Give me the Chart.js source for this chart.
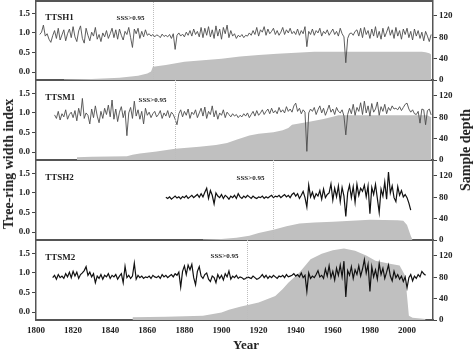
<!DOCTYPE html>
<html>
<head>
<meta charset="utf-8">
<script src="https://cdn.jsdelivr.net/npm/chart.js@4.4.1/dist/chart.umd.min.js"></script>
<style>
  body { margin: 0; background: #fff; }
  #wrap { position: relative; width: 474px; height: 350px; overflow: hidden; font-family: "Liberation Serif", "Times New Roman", serif; font-weight: bold; color: #222; }
  #wrap canvas { position: absolute; left: 0; }
  .axis-title { position: absolute; font-size: 14px; white-space: nowrap; line-height: 1; }
  #leftTitle { left: 9px; top: 164px; transform: translate(-50%, -50%) rotate(-90deg); }
  #rightTitle { left: 466px; top: 150px; transform: translate(-50%, -50%) rotate(-90deg); }
  #bottomTitle { left: 246px; top: 344px; transform: translate(-50%, -50%); font-size: 13px; }
</style>
</head>
<body>
<div id="wrap">
  <canvas id="panel0" width="474" height="82" style="top:0px"></canvas>
  <canvas id="panel1" width="474" height="82" style="top:80px"></canvas>
  <canvas id="panel2" width="474" height="82" style="top:160px"></canvas>
  <canvas id="panel3" width="474" height="110" style="top:240px"></canvas>
  <div class="axis-title" id="leftTitle">Tree-ring width index</div>
  <div class="axis-title" id="rightTitle">Sample depth</div>
  <div class="axis-title" id="bottomTitle">Year</div>
</div>
<script>
// axis ticks
const yearTicks = [1800, 1820, 1840, 1860, 1880, 1900, 1920, 1940, 1960, 1980, 2000];
const indexTicks = [0, 0.5, 1.0, 1.5];
const depthTicks = [0, 40, 80, 120];

const panelNames = ["TTSH1", "TTSM1", "TTSH2", "TTSM2"];
const sssYears = [1863, 1875, 1928, 1914];
const sssLabelValues = [1.38, 1.33, 1.38, 1.42];

// ring width index, one value per year from the start year
const ttsh1Start = 1802;
const ttsh1Index = [
  0.96, 1.02, 1.20, 0.92, 0.98, 0.84, 0.76, 0.93,
  1.06, 0.86, 1.12, 0.82, 0.95, 1.08, 0.80, 0.98, 1.10, 0.88,
  1.16, 0.90, 0.78, 1.05, 1.18, 0.86, 0.74, 1.12, 0.94, 0.80,
  1.02, 0.92, 1.14, 0.84, 0.96, 0.78, 1.00, 0.90, 1.06, 0.86,
  0.98, 1.12, 0.88, 1.08, 0.84, 1.10, 0.94, 0.82, 1.04, 0.96,
  1.14, 0.88, 0.63, 1.10, 0.98, 1.12, 0.86, 1.04, 0.90, 1.08,
  0.94, 0.98, 0.92, 0.96, 0.90, 0.95, 0.93, 0.88, 0.97, 0.91,
  0.94, 0.90, 0.96, 0.86, 0.98, 0.58, 0.94, 1.00, 0.92, 0.97,
  0.90, 1.02, 0.94, 1.06, 0.92, 1.10, 0.96, 1.04, 0.90, 1.14,
  0.88, 1.12, 0.94, 1.16, 0.90, 1.08, 0.86, 1.18, 0.92, 1.10,
  0.84, 1.14, 0.98, 1.20, 0.88, 1.06, 0.92, 0.98, 0.86, 0.94,
  0.90, 0.96, 0.88, 0.94, 0.92, 1.00, 0.94, 1.06, 0.96, 1.14,
  0.92, 1.08, 1.02, 1.16, 0.94, 1.10, 0.98, 1.04, 1.12, 0.96,
  1.06, 0.94, 1.02, 1.14, 0.96, 1.08, 1.00, 1.12, 0.98, 1.04,
  0.96, 1.10, 0.94, 1.06, 0.98, 1.16, 0.65, 1.04, 0.96, 1.10,
  0.94, 1.06, 1.00, 1.12, 0.92, 1.04, 0.98, 1.08, 0.94, 1.02,
  1.10, 0.96, 1.04, 0.92, 1.12, 0.98, 0.90, 0.24, 0.86, 0.98,
  1.00, 0.94, 1.04, 1.08, 0.92, 1.12, 0.88, 1.14, 0.96, 1.06,
  0.86, 1.10, 0.92, 1.16, 0.88, 1.04, 0.84, 1.12, 0.90, 1.02,
  1.16, 0.94, 1.08, 0.86, 1.14, 0.92, 1.06, 0.84, 1.10, 0.96,
  1.12, 0.88, 1.04, 0.82, 1.10, 0.92, 1.06, 0.86, 1.02, 0.80,
  1.04, 0.92, 0.78, 0.96
];

const ttsm1Start = 1810;
const ttsm1Index = [
  0.95, 0.86, 1.04, 0.82, 0.98, 0.90, 1.08, 0.84, 0.96, 1.02,
  0.88, 1.06, 0.80, 1.12, 0.92, 1.37, 0.86, 1.00, 0.94, 0.72,
  1.10, 0.88, 1.18, 0.92, 0.75, 1.04, 0.86, 1.12, 0.96, 1.20,
  0.90, 1.33, 0.84, 1.10, 0.78, 1.02, 1.16, 0.88, 1.06, 0.42,
  1.00, 1.14, 0.86, 1.30, 0.92, 1.08, 0.84, 1.04, 0.72, 1.12,
  0.94, 1.02, 0.88, 0.98, 1.04, 0.90, 0.96, 1.06, 0.86, 1.00,
  0.92, 1.06, 0.88, 1.02, 0.96, 0.84, 0.70, 0.98, 1.08, 0.90,
  1.04, 0.94, 1.10, 0.86, 1.02, 0.96, 1.08, 0.88, 1.00, 1.12,
  0.92, 1.15, 0.86, 1.04, 0.96, 1.18, 0.90, 1.06, 0.84, 1.00,
  0.94, 1.08, 0.88, 1.02, 0.96, 0.90, 0.98, 0.92, 0.96, 0.88,
  0.94, 0.90, 0.98, 0.92, 1.00, 0.88, 0.96, 1.04, 0.92, 1.06,
  0.94, 1.00, 1.08, 0.96, 1.04, 1.10, 0.98, 1.12, 1.00, 1.06,
  0.98, 1.14, 1.02, 1.08, 1.00, 1.16, 1.04, 1.10, 1.02, 1.18,
  1.25, 1.04, 1.12, 0.98, 1.08, 1.02, 0.02, 1.00, 1.10, 1.04,
  1.14, 0.96, 1.08, 1.18, 1.00, 1.12, 0.94, 1.06, 1.20, 1.02,
  1.10, 0.96, 1.14, 1.04, 1.00, 1.08, 0.92, 0.44, 0.96, 1.12,
  0.98, 1.22, 0.94, 1.14, 1.04, 1.26, 0.96, 1.30, 1.00, 1.18,
  0.92, 1.24, 1.02, 1.10, 1.28, 0.94, 1.16, 1.04, 1.22, 0.98,
  1.14, 1.06, 1.18, 1.10, 1.12, 1.08, 1.16, 1.06, 1.14, 1.22,
  1.25, 1.10, 1.02, 1.08, 0.98, 0.96, 1.04, 0.74, 1.10, 1.08,
  0.70, 1.06, 1.10, 0.95
];

const ttsh2Start = 1870;
const ttsh2Index = [
  0.89, 0.86, 0.90, 0.84, 0.88, 0.92, 0.87, 0.90, 0.85, 0.91,
  0.88, 0.93, 0.86, 0.90, 0.94, 0.88, 0.92, 0.96, 0.89, 0.98,
  0.90, 1.02, 1.12, 0.86, 1.06, 0.94, 0.72, 1.00, 0.92, 0.88,
  0.96, 0.86, 0.94, 0.90, 0.84, 0.92, 0.88, 0.94, 0.86, 0.98,
  0.90, 0.86, 0.92, 0.88, 0.94, 0.90, 0.86, 0.92, 0.88, 0.86,
  0.90, 0.88, 0.92, 0.86, 0.90, 0.87, 0.91, 0.94, 0.88, 0.92,
  0.90, 0.94, 0.88, 0.92, 0.96, 0.90, 0.94, 0.88, 0.96, 1.00,
  0.92, 0.98, 0.86, 0.94, 1.04, 0.88, 0.64, 1.20, 0.90, 1.02,
  0.86, 0.98, 0.92, 1.06, 0.84, 1.10, 0.88, 0.96, 1.00, 1.23,
  0.82, 1.12, 0.90, 1.18, 0.78, 1.14, 0.92, 0.40, 1.00, 1.20,
  0.88, 1.16, 0.76, 1.22, 0.94, 1.12, 1.04, 1.20, 0.90, 1.18,
  0.47, 1.14, 0.96, 1.22, 0.86, 0.50, 1.10, 0.92, 1.28, 0.84,
  1.53, 1.00, 1.18, 0.88, 0.78, 1.16, 0.94, 1.06, 0.90, 0.96,
  0.88, 0.74, 0.56
];

const ttsm2Start = 1809;
const ttsm2Index = [
  0.88,
  0.94, 0.84, 0.96, 0.88, 0.92, 0.86, 0.98, 0.90, 1.02, 0.88,
  1.04, 0.92, 1.02, 0.86, 0.96, 1.00, 1.06, 1.16, 0.94, 1.02,
  0.90, 0.98, 0.75, 0.92, 0.86, 0.96, 0.84, 0.94, 0.90, 0.98,
  0.86, 0.94, 0.90, 0.96, 0.84, 0.92, 0.98, 0.75, 1.17, 0.88,
  0.94, 0.86, 0.92, 1.25, 0.84, 0.94, 0.88, 0.92, 0.86, 0.90,
  0.88, 0.92, 0.86, 0.94, 0.90, 0.88, 0.92, 0.86, 0.96, 0.90,
  0.94, 0.88, 0.92, 0.96, 0.90, 0.98, 0.94, 1.02, 0.64, 1.04,
  1.18, 0.96, 1.20, 1.08, 1.22, 0.88, 0.70, 1.04, 1.16, 0.92,
  0.86, 0.96, 1.00, 0.84, 0.78, 0.92, 0.88, 0.75, 0.96, 0.86,
  0.94, 0.82, 0.98, 0.90, 1.05, 0.84, 0.92, 0.88, 0.94, 0.86,
  0.90, 0.88, 0.84, 0.86, 0.90, 0.88, 0.86, 0.92, 0.88, 0.84,
  0.86, 0.90, 0.96, 0.88, 0.94, 0.86, 0.92, 0.88, 0.94, 0.90,
  0.86, 0.92, 0.90, 0.94, 0.88, 0.96, 0.90, 0.92, 0.94, 0.98,
  0.92, 0.96, 0.90, 1.00, 0.88, 0.94, 0.53, 1.00, 0.86, 0.92,
  0.88, 0.96, 1.06, 0.90, 0.94, 0.86, 1.10, 0.92, 1.18, 0.88,
  1.04, 0.82, 1.12, 0.94, 1.20, 0.90, 1.30, 0.39, 1.06, 0.94,
  1.16, 0.86, 1.08, 0.96, 1.18, 0.92, 1.10, 1.34, 1.00, 1.22,
  0.53, 1.16, 0.90, 1.08, 0.84, 1.24, 0.96, 1.12, 0.86, 1.02,
  1.20, 0.92, 0.80, 1.04, 0.88, 0.96, 0.84, 0.92, 0.78, 0.90,
  0.62, 0.88, 0.96, 0.80, 0.92, 0.86, 0.96, 0.90, 1.04, 0.98,
  0.94
];

// sample depth (number of series), read at break points
const ttsh1DepthYears = [1815, 1830, 1845, 1855, 1860, 1862, 1863, 1870, 1880, 1890, 1900, 1910, 1920, 1930, 1940, 1950, 2008, 2010, 2012, 2013];
const ttsh1Depth      = [1,    2,    4,    8,    12,   16,   25,   28,   34,   37,   40,   44,   47,   49,   51,   53,   53,   52,   50,   48];

const ttsm1DepthYears = [1822, 1830, 1849, 1852, 1856, 1865, 1875, 1888, 1897, 1903, 1908, 1915, 1920, 1928, 1933, 1936, 1938, 1948, 1955, 1960, 1963, 2011, 2013];
const ttsm1Depth      = [5,    6,    7,    10,   12,   16,   21,   25,   28,   32,   38,   46,   49,   52,   56,   60,   66,   72,   77,   81,   84,   84,   80];

const ttsh2DepthYears = [1890, 1900, 1908, 1915, 1920, 1928, 1935, 1942, 1950, 1960, 1970, 1980, 1995, 1998, 2000, 2002, 2003];
const ttsh2Depth      = [1,    2,    4,    8,    13,   19,   26,   31,   33,   34,   36,   38,   37,   36,   28,   8,    0];

const ttsm2DepthYears = [1852, 1870, 1890, 1900, 1904, 1910, 1920, 1929, 1933, 1936, 1942, 1948, 1954, 1960, 1966, 1972, 1978, 1983, 1990, 1996, 1999, 2001, 2003, 2010];
const ttsm2Depth      = [5,    6,    8,    14,   19,   25,   33,   45,   58,   70,   89,   114,  124,  131,  134,  130,  121,  111,  106,  102,  83,   8,    4,    2];

const panels = [
  { name: panelNames[0], start: ttsh1Start, index: ttsh1Index, depthYears: ttsh1DepthYears, depth: ttsh1Depth, lineColor: "#4d4d4d", lineWidth: 0.9 },
  { name: panelNames[1], start: ttsm1Start, index: ttsm1Index, depthYears: ttsm1DepthYears, depth: ttsm1Depth, lineColor: "#4d4d4d", lineWidth: 0.9 },
  { name: panelNames[2], start: ttsh2Start, index: ttsh2Index, depthYears: ttsh2DepthYears, depth: ttsh2Depth, lineColor: "#111111", lineWidth: 1.2 },
  { name: panelNames[3], start: ttsm2Start, index: ttsm2Index, depthYears: ttsm2DepthYears, depth: ttsm2Depth, lineColor: "#111111", lineWidth: 1.2 }
];

const FONT = "'Liberation Serif', 'Times New Roman', serif";
Chart.defaults.font.family = FONT;
Chart.defaults.font.weight = "bold";
Chart.defaults.font.size = 9;
Chart.defaults.color = "#222";

// panel name, SSS>0.95 marker and top frame line
const panelDecor = {
  id: "panelDecor",
  afterDatasetsDraw(chart, args, opts) {
    const {ctx, chartArea, scales} = chart;
    const sx = Math.round(scales.x.getPixelForValue(opts.sss)) + 0.5;
    ctx.save();
    ctx.strokeStyle = "#bdbdbd";
    ctx.lineWidth = 1;
    ctx.setLineDash([1, 1]);
    ctx.beginPath();
    ctx.moveTo(sx, chartArea.top);
    ctx.lineTo(sx, chartArea.bottom);
    ctx.stroke();
    ctx.setLineDash([]);

    ctx.fillStyle = "#222";
    ctx.textBaseline = "middle";
    ctx.font = `bold 9px ${FONT}`;
    ctx.textAlign = "left";
    ctx.fillText(opts.label, scales.x.getPixelForValue(1805), scales.yL.getPixelForValue(1.4));

    ctx.font = `bold 7px ${FONT}`;
    ctx.textAlign = "right";
    ctx.fillText("SSS>0.95", sx - 9, scales.yL.getPixelForValue(opts.sssValue));

    if(opts.top){
      ctx.fillStyle = "#555";
      ctx.fillRect(chartArea.left, chartArea.top, chartArea.right - chartArea.left, 2);
    }
    ctx.restore();
  }
};

window.makePanel = (i)=>{
  const p = panels[i];
  const last = i === panels.length - 1;

  const indexPoints = p.index.map((v, k)=>({x: p.start + k, y: v}));
  const depthPoints = p.depth.map((v, k)=>({x: p.depthYears[k], y: v}));

  return new Chart(document.getElementById(`panel${i}`), {
    type: "line",
    data: {
      datasets: [{
        data: indexPoints,
        yAxisID: "yL",
        borderColor: p.lineColor,
        borderWidth: p.lineWidth,
        pointRadius: 0,
        tension: 0,
        fill: false,
        order: 0
      }, {
        data: depthPoints,
        yAxisID: "yR",
        borderWidth: 0,
        borderColor: "rgba(0,0,0,0)",
        backgroundColor: "#c0c0c0",
        pointRadius: 0,
        tension: 0,
        fill: "origin",
        order: 1
      }]
    },
    options: {
      responsive: false,
      animation: false,
      devicePixelRatio: 1,
      layout: { padding: 0 },
      plugins: {
        legend: { display: false },
        tooltip: { enabled: false },
        panelDecor: { label: p.name, sss: sssYears[i], sssValue: sssLabelValues[i], top: i === 0 }
      },
      scales: {
        x: {
          type: "linear",
          min: 1800,
          max: 2014,
          grid: { drawOnChartArea: false, drawTicks: false },
          border: { color: "#555", width: 2 },
          ticks: { display: last, padding: 5, font: { size: 9 }, callback: (v)=>String(v) },
          afterBuildTicks: (s)=>{ s.ticks = yearTicks.map((v)=>({value: v})); },
          afterFit: (s)=>{ s.height = last ? 30 : 2; s.paddingLeft = 0; s.paddingRight = 0; }
        },
        yL: {
          type: "linear",
          position: "left",
          min: -0.2,
          max: 1.84,
          grid: { drawOnChartArea: false, tickLength: 4, tickColor: "#444" },
          border: { color: "#555", width: 1.5 },
          ticks: { padding: 2, callback: (v)=>v.toFixed(1) },
          afterBuildTicks: (s)=>{ s.ticks = indexTicks.map((v)=>({value: v})); },
          afterFit: (s)=>{ s.width = 36; s.paddingTop = 0; s.paddingBottom = 0; }
        },
        yR: {
          type: "linear",
          position: "right",
          min: 0,
          max: 150,
          grid: { drawOnChartArea: false, tickLength: 4, tickColor: "#444" },
          border: { color: "#555", width: 1.5 },
          ticks: { padding: 2, callback: (v)=>String(v) },
          afterBuildTicks: (s)=>{ s.ticks = depthTicks.map((v)=>({value: v})); },
          afterFit: (s)=>{ s.width = 41; s.paddingTop = 0; s.paddingBottom = 0; }
        }
      }
    },
    plugins: [panelDecor]
  });
}

for(let i = 0; i < panels.length; i++){
  makePanel(i);
}
</script>
</body>
</html>
